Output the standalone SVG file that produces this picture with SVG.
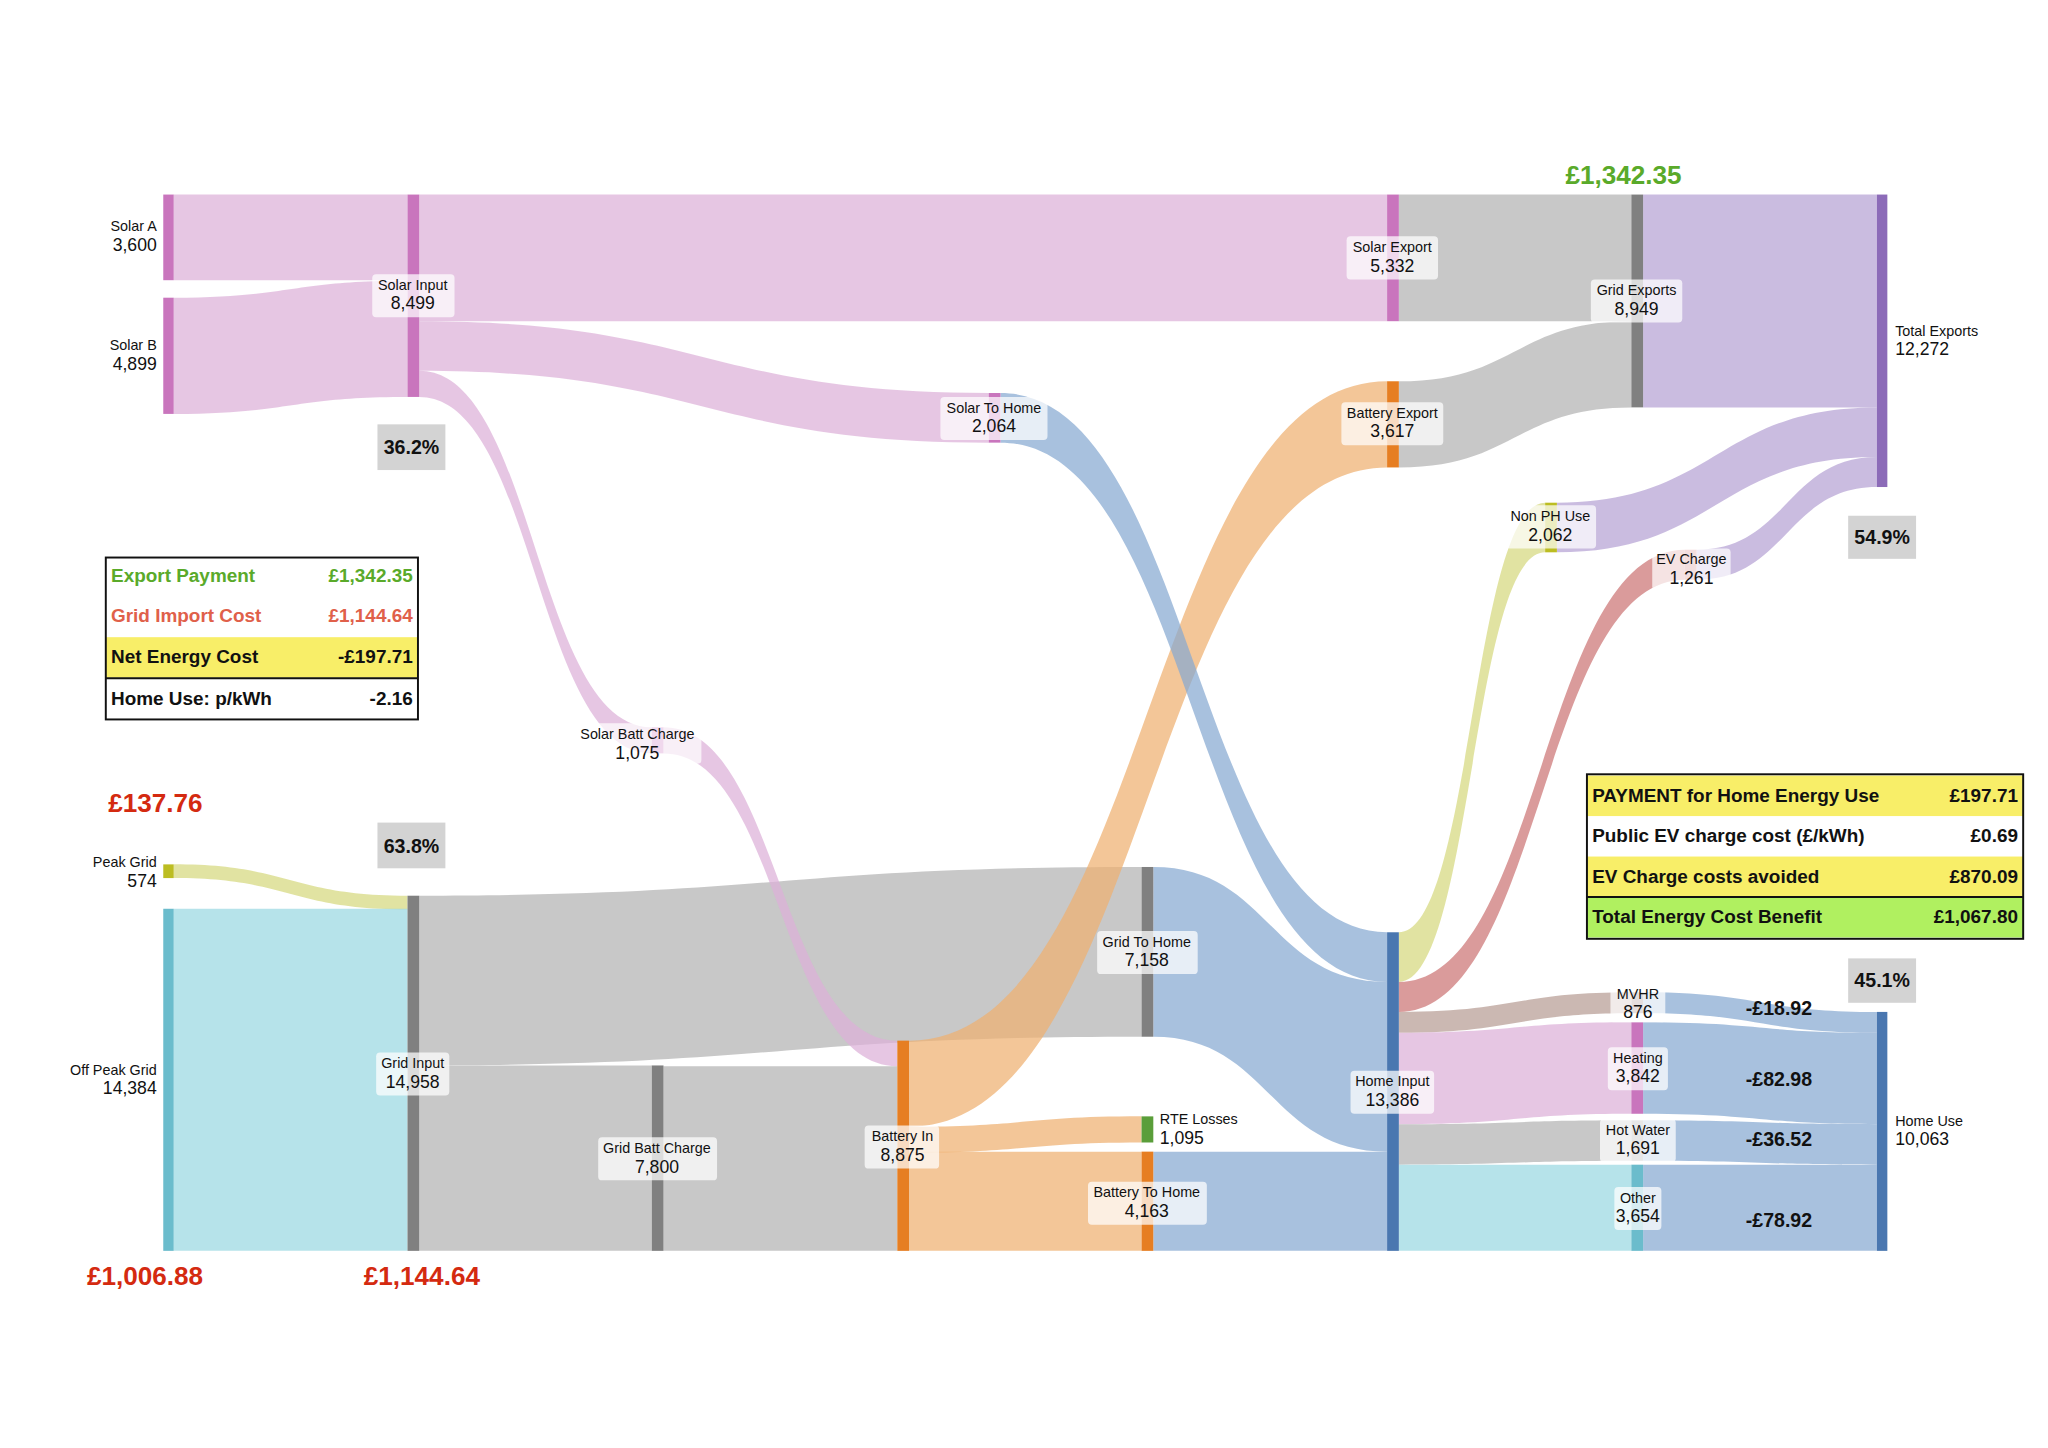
<svg xmlns="http://www.w3.org/2000/svg" width="2048" height="1448" viewBox="0 0 2048 1448">
<style>
text{font-family:"Liberation Sans",Arial,sans-serif;fill:#111}
.n{font-size:11px}.v{font-size:13.5px}
.c{text-anchor:middle}.r{text-anchor:end}
.lb{fill:#fff;fill-opacity:0.72;stroke:none}
.b{font-weight:bold}
.pct{fill:#d3d3d3}
.pt{font-size:15px;font-weight:bold;text-anchor:middle}
.money{font-size:20px;font-weight:bold;fill:#d42a10;text-anchor:middle}
.cost{font-size:15px;font-weight:bold;text-anchor:middle}
.tb{font-size:14.5px;font-weight:bold}
.l{fill-opacity:0.72}
.pk{fill:#dcb0d8}.gr{fill:#b3b3b3}.tl{fill:#9ad8e2}.yl{fill:#d6d87e}.or{fill:#eeb070}.bl{fill:#86a9d1}.pu{fill:#b6a2d4}.rd{fill:#cc7474}.mv{fill:#b79d94}
</style>
<rect width="2048" height="1448" fill="#fff"/>
<g transform="scale(1.30612,1.3057)">
<g id="links">
<path class="l pk" d="M133 149C222 149 222 149 312 149L312 214.6C222 214.6 222 214.6 133 214.6Z"/>
<path class="l pk" d="M133 228C222 228 222 215 312 215L312 304C222 304 222 317 133 317Z"/>
<path class="l yl" d="M133 662C222 662 222 686 312 686L312 696.5C222 696.5 222 672.5 133 672.5Z"/>
<path class="l tl" d="M133 696C222 696 222 696 312 696L312 958C222 958 222 958 133 958Z"/>
<path class="l pk" d="M321 149C690 149 690 149 1062 149L1062 246C690 246 690 246 321 246Z"/>
<path class="l pk" d="M321 246C539 246 539 301 757 301L757 339C539 339 539 284 321 284Z"/>
<path class="l pk" d="M321 284C410 284 410 557 499 557L499 577C410 577 410 304 321 304Z"/>
<path class="l gr" d="M321 686C597 686 597 664 874 664L874 794C597 794 597 816 321 816Z"/>
<path class="l gr" d="M321 816C410 816 410 816 499 816L499 958C410 958 410 958 321 958Z"/>
<path class="l pk" d="M508 557C597 557 597 797 687 797L687 816.6C597 816.6 597 577 508 577Z"/>
<path class="l gr" d="M508 816.6C597 816.6 597 816.6 687 816.6L687 958C597 958 597 958 508 958Z"/>
<path class="l or" d="M696 797C879 797 879 292 1062 292L1062 358C879 358 879 863 696 863Z"/>
<path class="l or" d="M696 863C785 863 785 855 874 855L874 875C785 875 785 883 696 883Z"/>
<path class="l or" d="M696 882C785 882 785 882 874 882L874 958C785 958 785 958 696 958Z"/>
<path class="l bl" d="M766 301C914 301 914 714 1062 714L1062 752C914 752 914 339 766 339Z"/>
<path class="l bl" d="M883 664C972 664 972 752 1062 752L1062 882C972 882 972 794 883 794Z"/>
<path class="l bl" d="M883 882C972 882 972 882 1062 882L1062 958C972 958 972 958 883 958Z"/>
<path class="l gr" d="M1071 149C1160 149 1160 149 1249 149L1249 246C1160 246 1160 246 1071 246Z"/>
<path class="l gr" d="M1071 292C1160 292 1160 246 1249 246L1249 312C1160 312 1160 358 1071 358Z"/>
<path class="l yl" d="M1071 714C1127 714 1127 385 1183 385L1183 423C1127 423 1127 752 1071 752Z"/>
<path class="l rd" d="M1071 752C1180 752 1180 421 1290 421L1290 444C1180 444 1180 775 1071 775Z"/>
<path class="l mv" d="M1071 775C1160 775 1160 760 1249 760L1249 776C1160 776 1160 791 1071 791Z"/>
<path class="l pk" d="M1071 791C1160 791 1160 783 1249 783L1249 853C1160 853 1160 861 1071 861Z"/>
<path class="l gr" d="M1071 861C1160 861 1160 858 1249 858L1249 889C1160 889 1160 892 1071 892Z"/>
<path class="l tl" d="M1071 892C1160 892 1160 892 1249 892L1249 958C1160 958 1160 958 1071 958Z"/>
<path class="l pu" d="M1258 149C1347 149 1347 149 1437 149L1437 312C1347 312 1347 312 1258 312Z"/>
<path class="l pu" d="M1192 385C1314 385 1314 312 1437 312L1437 350C1314 350 1314 423 1192 423Z"/>
<path class="l pu" d="M1299 421C1368 421 1368 350 1437 350L1437 373C1368 373 1368 444 1299 444Z"/>
<path class="l bl" d="M1258 760C1347 760 1347 775 1437 775L1437 791C1347 791 1347 776 1258 776Z"/>
<path class="l bl" d="M1258 783C1347 783 1347 791 1437 791L1437 861C1347 861 1347 853 1258 853Z"/>
<path class="l bl" d="M1258 858C1347 858 1347 861 1437 861L1437 892C1347 892 1347 889 1258 889Z"/>
<path class="l bl" d="M1258 892C1347 892 1347 892 1437 892L1437 958C1347 958 1347 958 1258 958Z"/>
</g>
<g id="solarA"><rect x="125" y="149" width="8" height="65.6" fill="#c975bd"/><text class="n r" x="120" y="177">Solar A</text><text class="v r" x="120" y="192">3,600</text></g>
<g id="solarB"><rect x="125" y="228" width="8" height="89" fill="#c975bd"/><text class="n r" x="120" y="268">Solar B</text><text class="v r" x="120" y="283">4,899</text></g>
<g id="peakGrid"><rect x="125" y="662" width="8" height="10.5" fill="#bcbd22"/><text class="n r" x="120" y="664">Peak Grid</text><text class="v r" x="120" y="679">574</text></g>
<g id="offPeakGrid"><rect x="125" y="696" width="8" height="262" fill="#6bbccc"/><text class="n r" x="120" y="823">Off Peak Grid</text><text class="v r" x="120" y="838">14,384</text></g>
<g id="solarInput"><rect x="312" y="149" width="9" height="155" fill="#c975bd"/><rect class="lb" x="285" y="210" width="63" height="33" rx="3"/><text class="n c" x="316" y="222">Solar Input</text><text class="v c" x="316" y="237">8,499</text></g>
<g id="gridInput"><rect x="312" y="686" width="9" height="272" fill="#808080"/><rect class="lb" x="288" y="806" width="56" height="33" rx="3"/><text class="n c" x="316" y="818">Grid Input</text><text class="v c" x="316" y="833">14,958</text></g>
<g id="solarBattCharge"><rect x="499" y="557" width="9" height="20" fill="#c975bd"/><rect class="lb" x="440" y="554" width="97" height="31" rx="3"/><text class="n c" x="488" y="566">Solar Batt Charge</text><text class="v c" x="488" y="581">1,075</text></g>
<g id="gridBattCharge"><rect x="499" y="816" width="9" height="142" fill="#808080"/><rect class="lb" x="458" y="871" width="91" height="33" rx="3"/><text class="n c" x="503" y="883">Grid Batt Charge</text><text class="v c" x="503" y="898">7,800</text></g>
<g id="batteryIn"><rect x="687" y="797" width="9" height="161" fill="#e67e22"/><rect class="lb" x="662" y="862" width="57" height="33" rx="3"/><text class="n c" x="691" y="874">Battery In</text><text class="v c" x="691" y="889">8,875</text></g>
<g id="solarToHome"><rect x="757" y="301" width="9" height="38" fill="#c975bd"/><rect class="lb" x="720" y="304" width="82" height="33" rx="3"/><text class="n c" x="761" y="316">Solar To Home</text><text class="v c" x="761" y="331">2,064</text></g>
<g id="gridToHome"><rect x="874" y="664" width="9" height="130" fill="#808080"/><rect class="lb" x="840" y="713" width="77" height="33" rx="3"/><text class="n c" x="878" y="725">Grid To Home</text><text class="v c" x="878" y="740">7,158</text></g>
<g id="rteLosses"><rect x="874" y="855" width="9" height="20" fill="#5a9e3a"/><text class="n" x="888" y="861">RTE Losses</text><text class="v" x="888" y="876">1,095</text></g>
<g id="batteryToHome"><rect x="874" y="882" width="9" height="76" fill="#e67e22"/><rect class="lb" x="833" y="905" width="91" height="33" rx="3"/><text class="n c" x="878" y="917">Battery To Home</text><text class="v c" x="878" y="932">4,163</text></g>
<g id="solarExport"><rect x="1062" y="149" width="9" height="97" fill="#c975bd"/><rect class="lb" x="1031" y="181" width="70" height="33" rx="3"/><text class="n c" x="1066" y="193">Solar Export</text><text class="v c" x="1066" y="208">5,332</text></g>
<g id="batteryExport"><rect x="1062" y="292" width="9" height="66" fill="#e67e22"/><rect class="lb" x="1027" y="308" width="78" height="33" rx="3"/><text class="n c" x="1066" y="320">Battery Export</text><text class="v c" x="1066" y="335">3,617</text></g>
<g id="homeInput"><rect x="1062" y="714" width="9" height="244" fill="#4a77b0"/><rect class="lb" x="1034" y="820" width="64" height="33" rx="3"/><text class="n c" x="1066" y="832">Home Input</text><text class="v c" x="1066" y="847">13,386</text></g>
<g id="nonPHUse"><rect x="1183" y="385" width="9" height="38" fill="#bcbd22"/><rect class="lb" x="1153" y="387" width="69" height="33" rx="3"/><text class="n c" x="1187" y="399">Non PH Use</text><text class="v c" x="1187" y="414">2,062</text></g>
<g id="evCharge"><rect x="1290" y="421" width="9" height="23" fill="#d48a8a"/><rect class="lb" x="1265" y="420" width="60" height="32" rx="3"/><text class="n c" x="1295" y="432">EV Charge</text><text class="v c" x="1295" y="447">1,261</text></g>
<g id="gridExports"><rect x="1249" y="149" width="9" height="163" fill="#808080"/><rect class="lb" x="1218" y="214" width="70" height="33" rx="3"/><text class="n c" x="1253" y="226">Grid Exports</text><text class="v c" x="1253" y="241">8,949</text></g>
<g id="mvhr"><rect x="1249" y="760" width="9" height="16" fill="#a08a84"/><rect class="lb" x="1233" y="754" width="42" height="29" rx="3"/><text class="n c" x="1254" y="765">MVHR</text><text class="v c" x="1254" y="780">876</text></g>
<g id="heating"><rect x="1249" y="783" width="9" height="70" fill="#c975bd"/><rect class="lb" x="1231" y="802" width="46" height="33" rx="3"/><text class="n c" x="1254" y="814">Heating</text><text class="v c" x="1254" y="829">3,842</text></g>
<g id="hotWater"><rect x="1249" y="858" width="9" height="31" fill="#a8a8a8"/><rect class="lb" x="1225" y="857" width="58" height="33" rx="3"/><text class="n c" x="1254" y="869">Hot Water</text><text class="v c" x="1254" y="884">1,691</text></g>
<g id="other"><rect x="1249" y="892" width="9" height="66" fill="#6bbccc"/><rect class="lb" x="1236" y="909" width="36" height="33" rx="3"/><text class="n c" x="1254" y="921">Other</text><text class="v c" x="1254" y="936">3,654</text></g>
<g id="totalExports"><rect x="1437" y="149" width="8" height="224" fill="#8c6bb8"/><text class="n" x="1451" y="257">Total Exports</text><text class="v" x="1451" y="272">12,272</text></g>
<g id="homeUse"><rect x="1437" y="775" width="8" height="183" fill="#4a77b0"/><text class="n" x="1451" y="862">Home Use</text><text class="v" x="1451" y="877">10,063</text></g>

<g id="annotations">
<rect class="pct" x="289" y="325" width="52" height="35"/><text class="pt" x="315" y="348">36.2%</text>
<rect class="pct" x="289" y="630" width="52" height="35"/><text class="pt" x="315" y="653">63.8%</text>
<rect class="pct" x="1415" y="395" width="52" height="33"/><text class="pt" x="1441" y="417">54.9%</text>
<rect class="pct" x="1415" y="734" width="52" height="34"/><text class="pt" x="1441" y="756">45.1%</text>
<text class="money" x="119" y="622">£137.76</text>
<text class="money" x="111" y="984">£1,006.88</text>
<text class="money" x="323" y="984">£1,144.64</text>
<text class="money" x="1243" y="141" style="fill:#5aaa2a">£1,342.35</text>
<text class="cost" x="1362" y="777">-£18.92</text>
<text class="cost" x="1362" y="832">-£82.98</text>
<text class="cost" x="1362" y="878">-£36.52</text>
<text class="cost" x="1362" y="940">-£78.92</text>
</g>
<g id="table1">
<rect x="81" y="488" width="239" height="31" fill="#f8ee68"/>
<rect x="81" y="427" width="239" height="124" fill="none" stroke="#111" stroke-width="1.5"/>
<line x1="81" y1="519.5" x2="320" y2="519.5" stroke="#111" stroke-width="1.5"/>
<text class="tb" x="85" y="446" style="fill:#5aaa2a">Export Payment</text><text class="tb r" x="316" y="446" style="fill:#5aaa2a">£1,342.35</text>
<text class="tb" x="85" y="476" style="fill:#e0604a">Grid Import Cost</text><text class="tb r" x="316" y="476" style="fill:#e0604a">£1,144.64</text>
<text class="tb" x="85" y="508">Net Energy Cost</text><text class="tb r" x="316" y="508">-£197.71</text>
<text class="tb" x="85" y="540">Home Use: p/kWh</text><text class="tb r" x="316" y="540">-2.16</text>
</g>
<g id="table2">
<rect x="1215" y="594" width="334" height="31" fill="#f8ee68"/>
<rect x="1215" y="656" width="334" height="31" fill="#f8ee68"/>
<rect x="1215" y="687" width="334" height="31" fill="#b0f060"/>
<rect x="1215" y="593" width="334" height="126" fill="none" stroke="#111" stroke-width="1.5"/>
<line x1="1215" y1="687" x2="1549" y2="687" stroke="#111" stroke-width="1.5"/>
<text class="tb" x="1219" y="614">PAYMENT for Home Energy Use</text><text class="tb r" x="1545" y="614">£197.71</text>
<text class="tb" x="1219" y="645">Public EV charge cost (£/kWh)</text><text class="tb r" x="1545" y="645">£0.69</text>
<text class="tb" x="1219" y="676">EV Charge costs avoided</text><text class="tb r" x="1545" y="676">£870.09</text>
<text class="tb" x="1219" y="707">Total Energy Cost Benefit</text><text class="tb r" x="1545" y="707">£1,067.80</text>
</g>
</g>
</svg>
